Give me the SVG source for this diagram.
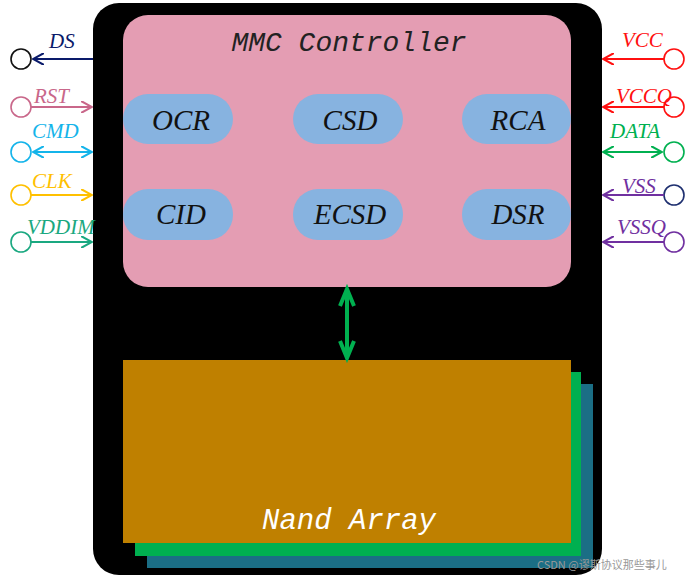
<svg xmlns="http://www.w3.org/2000/svg" width="694" height="579" viewBox="0 0 694 579">
<style>
.pill{fill:#87b3e0}
.pt{font-family:"Liberation Serif",serif;font-style:italic;font-size:29px;fill:#111;text-anchor:middle}
.lab{font-family:"Liberation Serif",serif;font-style:italic;font-size:21px}
.pin{fill:#fff;stroke-width:1.6}
.ln{stroke-width:2.2;fill:none}
</style>
<defs>
<marker id="ah" viewBox="0 0 12 12" refX="11" refY="6" markerWidth="12" markerHeight="12" markerUnits="userSpaceOnUse" orient="auto-start-reverse"><path d="M0,0 L11,6 L0,12" fill="none" stroke="context-stroke" stroke-width="2"/></marker>
</defs>
<g id="chip">
<rect x="93" y="3" width="509" height="572" rx="26" fill="#000"/>
</g>
<g id="nand">
<rect x="147" y="384" width="446" height="184" fill="#1b6e85"/>
<rect x="135" y="372" width="446" height="184" fill="#00b050"/>
<rect x="123" y="360" width="448" height="183" fill="#bf8000"/>
<text x="349" y="529" font-family="Liberation Mono,monospace" font-style="italic" font-size="29" fill="#fff" text-anchor="middle">Nand Array</text>
</g>
<g id="controller">
<rect x="123" y="15" width="448" height="272" rx="25" fill="#e49db3"/>
<text x="349" y="51" font-family="Liberation Mono,monospace" font-style="italic" font-size="28" fill="#222" text-anchor="middle">MMC Controller</text>
</g>
<g id="OCR"><rect class="pill" x="123" y="94" width="110" height="50" rx="25"/><text class="pt" x="181" y="130">OCR</text></g>
<g id="CSD"><rect class="pill" x="293" y="94" width="110" height="50" rx="25"/><text class="pt" x="350" y="130">CSD</text></g>
<g id="RCA"><rect class="pill" x="462" y="94" width="109" height="50" rx="25"/><text class="pt" x="518" y="130">RCA</text></g>
<g id="CID"><rect class="pill" x="123" y="189" width="110" height="51" rx="25"/><text class="pt" x="181" y="224">CID</text></g>
<g id="ECSD"><rect class="pill" x="293" y="189" width="110" height="51" rx="25"/><text class="pt" x="350" y="224">ECSD</text></g>
<g id="DSR"><rect class="pill" x="462" y="189" width="109" height="51" rx="25"/><text class="pt" x="518" y="224">DSR</text></g>
<g id="pins">
<circle class="pin" cx="21" cy="59" r="10" stroke="#111"/>
<circle class="pin" cx="21" cy="107" r="10" stroke="#c9678a"/>
<circle class="pin" cx="21" cy="152" r="10" stroke="#14b4ea"/>
<circle class="pin" cx="21" cy="195" r="10" stroke="#ffc000"/>
<circle class="pin" cx="21" cy="242" r="10" stroke="#1aa880"/>
<circle class="pin" cx="674" cy="59" r="10" stroke="#ff1010"/>
<circle class="pin" cx="674" cy="107" r="10" stroke="#ff1010"/>
<circle class="pin" cx="674" cy="152" r="10" stroke="#00b050"/>
<circle class="pin" cx="674" cy="195" r="10" stroke="#1f3070"/>
<circle class="pin" cx="674" cy="242" r="10" stroke="#7030a0"/>
</g>
<g id="connectors">
<path class="ln" d="M93,59 H33" stroke="#0a1a6a" marker-end="url(#ah)"/>
<path class="ln" d="M31,107 H92" stroke="#c9678a" marker-end="url(#ah)"/>
<path class="ln" d="M33,152 H92" stroke="#14b4ea" marker-start="url(#ah)" marker-end="url(#ah)"/>
<path class="ln" d="M31,195 H92" stroke="#ffc000" marker-end="url(#ah)"/>
<path class="ln" d="M31,242 H92" stroke="#1aa880" marker-end="url(#ah)"/>
<path class="ln" d="M664,59 H603" stroke="#ff1010" marker-end="url(#ah)"/>
<path class="ln" d="M664,107 H603" stroke="#ff1010" marker-end="url(#ah)"/>
<path class="ln" d="M603,152 H662" stroke="#00b050" marker-start="url(#ah)" marker-end="url(#ah)"/>
<path class="ln" d="M664,195 H603" stroke="#7030a0" marker-end="url(#ah)"/>
<path class="ln" d="M664,242 H603" stroke="#7030a0" marker-end="url(#ah)"/>
<path d="M347,291 V356" stroke="#00b050" stroke-width="4" fill="none"/>
<path d="M340,306 L347,289 L354,306 M340,341 L347,358 L354,341" stroke="#00b050" stroke-width="4" fill="none"/>
</g>
<g id="labels" class="lab">
<text x="49" y="48" fill="#0a1a6a">DS</text>
<text x="34" y="103" fill="#c9678a">RST</text>
<text x="32" y="138" fill="#14b4ea">CMD</text>
<text x="32" y="188" fill="#ffc000">CLK</text>
<text x="27" y="234" fill="#1aa880">VDDIM</text>
<text x="622" y="47" fill="#ff1010">VCC</text>
<text x="616" y="103" fill="#ff1010">VCCQ</text>
<text x="610" y="138" fill="#00b050">DATA</text>
<text x="622" y="193" fill="#7030a0">VSS</text>
<text x="617" y="234" fill="#7030a0">VSSQ</text>
</g>
<text x="537" y="569" font-family="Noto Sans CJK SC,sans-serif" font-size="11" fill="#999">CSDN @谬斯协议那些事儿</text>
</svg>
